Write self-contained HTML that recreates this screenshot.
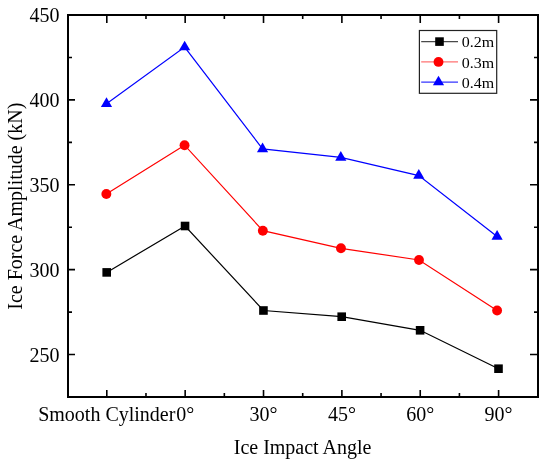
<!DOCTYPE html>
<html><head><meta charset="utf-8"><title>Ice Force Amplitude chart</title>
<style>html,body{margin:0;padding:0;background:#fff;width:550px;height:465px;overflow:hidden}svg{display:block;will-change:transform}</style>
</head><body>
<svg width="550" height="465" viewBox="0 0 550 465" font-family="'Liberation Serif', serif" font-size="20" fill="#000">
<rect width="550" height="465" fill="#fff"/>
<g><polyline points="106.70,272.40 185.05,226.00 263.45,310.50 341.70,316.70 420.10,330.30 498.50,368.70" fill="none" stroke="#000" stroke-width="1.2"/><polyline points="106.35,194.00 184.55,145.20 262.85,230.70 340.95,248.30 419.00,260.00 497.10,310.45" fill="none" stroke="#ff0000" stroke-width="1.2"/><polyline points="106.50,103.80 184.65,47.10 262.55,148.90 340.80,157.40 418.80,175.55 497.10,236.55" fill="none" stroke="#0000ff" stroke-width="1.2"/><rect x="102.40" y="268.10" width="8.6" height="8.6" fill="#000"/><rect x="180.75" y="221.70" width="8.6" height="8.6" fill="#000"/><rect x="259.15" y="306.20" width="8.6" height="8.6" fill="#000"/><rect x="337.40" y="312.40" width="8.6" height="8.6" fill="#000"/><rect x="415.80" y="326.00" width="8.6" height="8.6" fill="#000"/><rect x="494.20" y="364.40" width="8.6" height="8.6" fill="#000"/><circle cx="106.35" cy="194.00" r="4.95" fill="#ff0000"/><circle cx="184.55" cy="145.20" r="4.95" fill="#ff0000"/><circle cx="262.85" cy="230.70" r="4.95" fill="#ff0000"/><circle cx="340.95" cy="248.30" r="4.95" fill="#ff0000"/><circle cx="419.00" cy="260.00" r="4.95" fill="#ff0000"/><circle cx="497.10" cy="310.45" r="4.95" fill="#ff0000"/><path d="M106.50 97.33L112.10 107.03L100.90 107.03Z" fill="#0000ff"/><path d="M184.65 40.63L190.25 50.33L179.05 50.33Z" fill="#0000ff"/><path d="M262.55 142.43L268.15 152.13L256.95 152.13Z" fill="#0000ff"/><path d="M340.80 150.93L346.40 160.63L335.20 160.63Z" fill="#0000ff"/><path d="M418.80 169.08L424.40 178.78L413.20 178.78Z" fill="#0000ff"/><path d="M497.10 230.08L502.70 239.78L491.50 239.78Z" fill="#0000ff"/></g>
<g><rect x="68.0" y="15.0" width="470.0" height="382.0" fill="none" stroke="#000" stroke-width="2"/><path d="M68.0 99.89h7M538.0 99.89h-8" stroke="#000" stroke-width="1.6"/><path d="M68.0 184.78h7M538.0 184.78h-8" stroke="#000" stroke-width="1.6"/><path d="M68.0 269.67h7M538.0 269.67h-8" stroke="#000" stroke-width="1.6"/><path d="M68.0 354.56h7M538.0 354.56h-8" stroke="#000" stroke-width="1.6"/><path d="M68.0 57.44h4M538.0 57.44h-4" stroke="#000" stroke-width="1.6"/><path d="M68.0 142.33h4M538.0 142.33h-4" stroke="#000" stroke-width="1.6"/><path d="M68.0 227.22h4M538.0 227.22h-4" stroke="#000" stroke-width="1.6"/><path d="M68.0 312.11h4M538.0 312.11h-4" stroke="#000" stroke-width="1.6"/><path d="M106.80 397.0v-7M106.80 15.0v8" stroke="#000" stroke-width="1.6"/><path d="M185.16 397.0v-7M185.16 15.0v8" stroke="#000" stroke-width="1.6"/><path d="M263.52 397.0v-7M263.52 15.0v8" stroke="#000" stroke-width="1.6"/><path d="M341.88 397.0v-7M341.88 15.0v8" stroke="#000" stroke-width="1.6"/><path d="M420.24 397.0v-7M420.24 15.0v8" stroke="#000" stroke-width="1.6"/><path d="M498.60 397.0v-7M498.60 15.0v8" stroke="#000" stroke-width="1.6"/><path d="M145.98 397.0v-4M145.98 15.0v4" stroke="#000" stroke-width="1.6"/><path d="M224.34 397.0v-4M224.34 15.0v4" stroke="#000" stroke-width="1.6"/><path d="M302.70 397.0v-4M302.70 15.0v4" stroke="#000" stroke-width="1.6"/><path d="M381.06 397.0v-4M381.06 15.0v4" stroke="#000" stroke-width="1.6"/><path d="M459.42 397.0v-4M459.42 15.0v4" stroke="#000" stroke-width="1.6"/></g>
<g><rect x="419.4" y="30.5" width="77.3" height="62.8" fill="#fff" stroke="#222" stroke-width="1.2"/><path d="M421.2 41.6H458" stroke="#4a4a4a" stroke-width="1.2"/><path d="M421.2 61.9H458" stroke="#ff7272" stroke-width="1.2"/><path d="M421.2 82.1H458" stroke="#3535ff" stroke-width="1.2"/><rect x="435.20" y="37.30" width="8.6" height="8.6" fill="#000"/><circle cx="438.50" cy="61.90" r="4.95" fill="#ff0000"/><path d="M438.50 75.63L444.10 85.33L432.90 85.33Z" fill="#0000ff"/><text transform="translate(461.7 47.20) scale(1.065 1)" font-size="15">0.2m</text><text transform="translate(461.7 67.50) scale(1.065 1)" font-size="15">0.3m</text><text transform="translate(461.7 87.70) scale(1.065 1)" font-size="15">0.4m</text></g>
<g><text x="59.5" y="22.00" text-anchor="end">450</text><text x="59.5" y="106.89" text-anchor="end">400</text><text x="59.5" y="191.78" text-anchor="end">350</text><text x="59.5" y="276.67" text-anchor="end">300</text><text x="59.5" y="361.56" text-anchor="end">250</text><text x="106.80" y="420.6" text-anchor="middle">Smooth Cylinder</text><text x="185.16" y="420.6" text-anchor="middle">0°</text><text x="263.52" y="420.6" text-anchor="middle">30°</text><text x="341.88" y="420.6" text-anchor="middle">45°</text><text x="420.24" y="420.6" text-anchor="middle">60°</text><text x="498.60" y="420.6" text-anchor="middle">90°</text><text x="302.6" y="453.6" text-anchor="middle">Ice Impact Angle</text><text transform="translate(21.5 206.2) rotate(-90)" text-anchor="middle">Ice Force Amplitude (kN)</text></g>
</svg>
</body></html>
